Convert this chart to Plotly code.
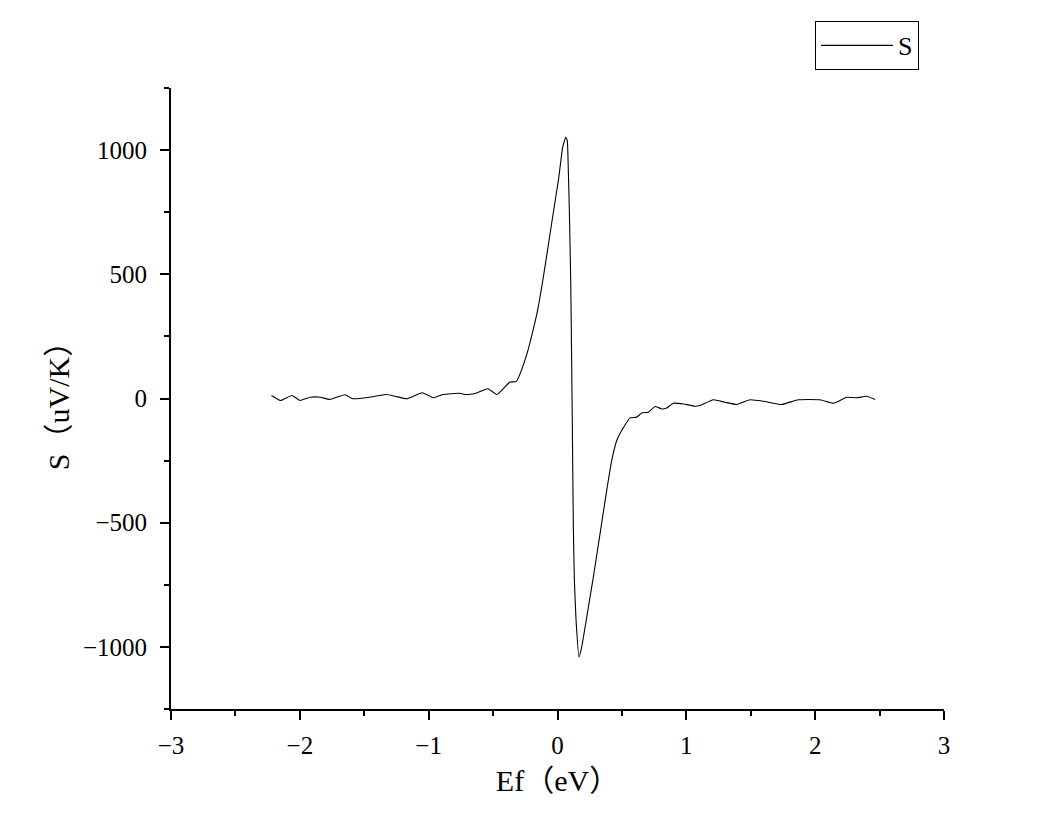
import plotly.graph_objects as go

ef = [-2.22, -2.15, -2.06, -2.00, -1.92, -1.84, -1.77, -1.65, -1.59, -1.46, -1.33, -1.26, -1.17,
      -1.05, -0.96, -0.89, -0.76, -0.71, -0.64, -0.54, -0.47, -0.37, -0.32, -0.29, -0.23, -0.19,
      -0.15, -0.11, -0.07, -0.03, 0.01, 0.04, 0.064, 0.076, 0.084, 0.092, 0.103, 0.110, 0.113,
      0.117, 0.123, 0.131, 0.144, 0.167, 0.188, 0.227, 0.278, 0.330, 0.382, 0.421, 0.460, 0.511,
      0.563, 0.615, 0.654, 0.705, 0.757, 0.809, 0.848, 0.899, 0.977, 1.067, 1.106, 1.209, 1.300,
      1.391, 1.494, 1.598, 1.740, 1.869, 2.038, 2.141, 2.245, 2.323, 2.400, 2.465]
s_vals = [12, -8, 12, -8, 5, 5, -4, 15, -1, 5, 16, 9, -1,
          23, 3, 16, 21, 16, 20, 39, 16, 66, 68, 100, 193, 274,
          367, 488, 622, 757, 890, 1011, 1052, 1038, 918, 757, 461, 140, 0,
          -209, -518, -732, -893, -1041, -1000, -880, -719, -545, -370, -249, -169, -118,
          -78, -75, -58, -55, -32, -42, -38, -19, -22, -31, -28, -5, -15,
          -24, -5, -11, -24, -5, -5, -19, 5, 3, 9, -4]

x_ticks = [-3, -2, -1, 0, 1, 2, 3]
y_ticks = [-1000, -500, 0, 500, 1000]

FONT = "Liberation Serif, Noto Sans CJK SC, serif"

fig = go.Figure()
fig.add_trace(go.Scatter(x=ef, y=s_vals, mode="lines", name="S",
                         line=dict(color="black", width=1.1, shape="spline", smoothing=0.4)))

axis_common = dict(
    showgrid=False, zeroline=False, showline=True, linecolor="black", linewidth=2,
    ticks="outside", ticklen=9, tickwidth=2, tickcolor="black",
    tickfont=dict(family=FONT, size=25, color="black"),
    minor=dict(ticks="outside", ticklen=5, tickwidth=2, tickcolor="black"),
)

fig.update_layout(
    width=1045, height=837,
    paper_bgcolor="white", plot_bgcolor="white",
    margin=dict(l=163, r=109, t=80, b=136, autoexpand=False),
    font=dict(family=FONT, color="black"),
    xaxis=dict(range=[-3, 3], tickvals=x_ticks, minor_dtick=0.5, ticklabelstandoff=4,
               title=dict(text="Ef（eV）", font=dict(family=FONT, size=30), standoff=12),
               **axis_common),
    yaxis=dict(range=[-1250, 1250], tickvals=y_ticks, minor_dtick=250, ticklabelstandoff=8,
               title=dict(text="S（uV/K）", font=dict(family=FONT, size=30), standoff=4),
               **axis_common),
    showlegend=True,
    legend=dict(x=0.9677, y=1.108, xanchor="right", yanchor="top",
                bordercolor="black", borderwidth=1, bgcolor="white",
                font=dict(family=FONT, size=26, color="black"),
                itemwidth=72, tracegroupgap=0),
)

fig.write_html("out.html")
